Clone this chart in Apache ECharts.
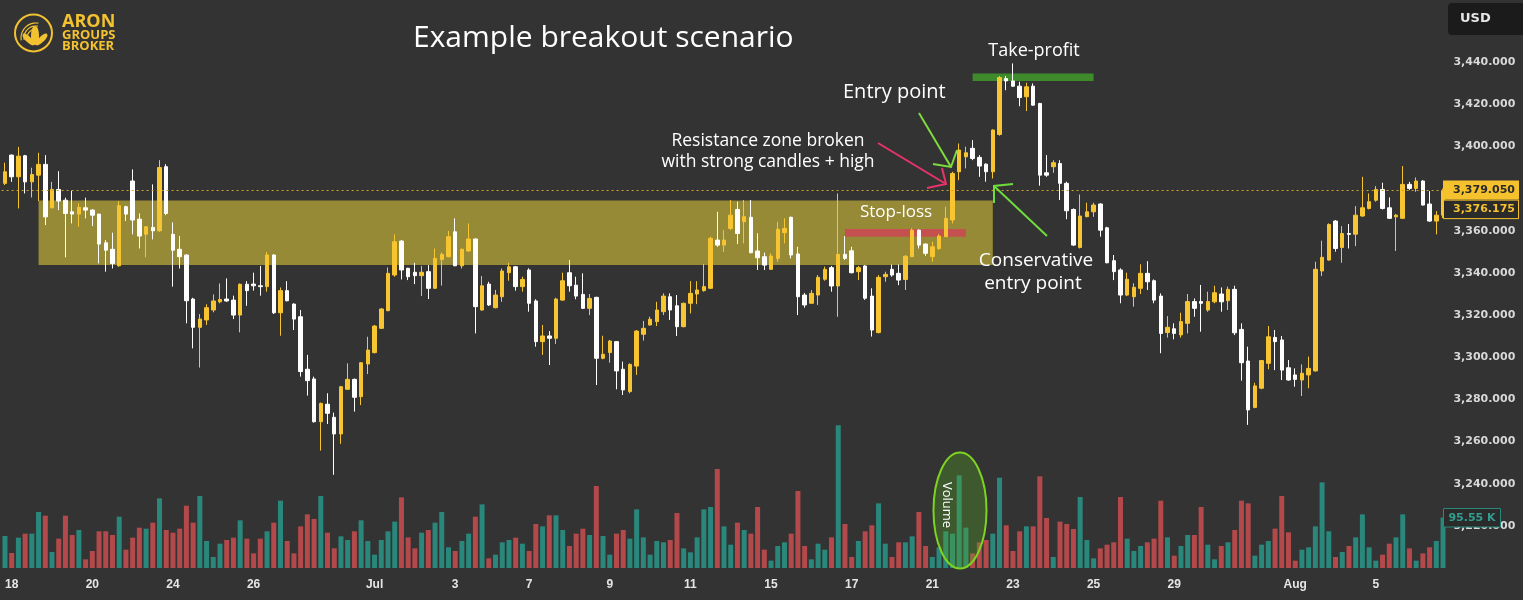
<!DOCTYPE html>
<html>
<head>
<meta charset="utf-8">
<title>Example breakout scenario</title>
<script src="https://cdn.jsdelivr.net/npm/echarts@6/dist/echarts.min.js"></script>
<style>
  html, body { margin: 0; padding: 0; background: #333333; }
  #chart { width: 1523px; height: 600px; }
</style>
</head>
<body>
<div id="chart"></div>
<script>
// 4H candles: [open, close, low, high]
var ohlc = [
  [3382.5, 3388.0, 3381.7, 3392.3], [3395.9, 3385.6, 3383.2, 3396.2], [3385.6, 3395.4, 3370.6, 3399.8], [3395.6, 3383.2, 3377.7, 3396.0],
  [3383.2, 3386.7, 3375.8, 3389.9], [3386.4, 3391.5, 3374.1, 3397.0], [3391.5, 3366.6, 3362.7, 3395.9], [3370.9, 3379.6, 3370.6, 3383.2],
  [3379.6, 3374.1, 3369.8, 3388.3], [3374.5, 3368.2, 3347.4, 3375.7], [3369.0, 3367.9, 3363.5, 3379.0], [3367.9, 3371.1, 3361.9, 3373.0],
  [3370.9, 3369.8, 3365.9, 3375.7], [3369.8, 3367.4, 3362.2, 3370.3], [3367.9, 3353.7, 3344.5, 3368.0], [3354.3, 3350.8, 3340.6, 3355.6],
  [3351.2, 3344.5, 3342.1, 3359.1], [3343.4, 3371.9, 3342.9, 3374.1], [3371.4, 3367.9, 3364.6, 3371.9], [3383.6, 3365.1, 3358.3, 3389.1],
  [3365.5, 3357.5, 3351.6, 3368.2], [3358.3, 3361.9, 3347.4, 3362.2], [3361.6, 3360.0, 3355.9, 3382.0], [3360.0, 3390.0, 3359.5, 3393.5],
  [3390.4, 3368.2, 3367.4, 3391.6], [3358.3, 3350.8, 3333.5, 3364.0], [3351.2, 3347.7, 3342.1, 3357.5], [3348.5, 3326.8, 3316.1, 3348.8],
  [3327.6, 3314.2, 3304.2, 3328.2], [3314.2, 3318.1, 3295.1, 3320.5], [3317.7, 3323.5, 3315.3, 3325.1], [3322.4, 3326.7, 3321.3, 3329.8],
  [3326.3, 3327.4, 3325.6, 3335.0], [3327.6, 3326.7, 3326.3, 3337.4], [3327.1, 3320.0, 3318.1, 3329.2], [3320.0, 3334.6, 3311.8, 3335.0],
  [3334.6, 3331.6, 3324.4, 3336.1], [3334.7, 3333.9, 3331.6, 3340.1], [3333.9, 3333.5, 3329.2, 3343.3], [3333.5, 3348.5, 3331.1, 3350.0],
  [3348.5, 3321.1, 3320.5, 3348.8], [3321.1, 3331.6, 3310.2, 3333.1], [3331.6, 3326.8, 3326.5, 3336.1], [3325.2, 3318.1, 3312.9, 3325.6],
  [3319.2, 3293.2, 3290.8, 3322.4], [3294.3, 3288.9, 3281.8, 3301.1], [3289.7, 3269.4, 3269.0, 3290.8], [3269.4, 3278.1, 3255.7, 3278.5],
  [3277.7, 3273.4, 3268.3, 3282.9], [3271.5, 3263.6, 3244.2, 3273.7], [3263.6, 3286.0, 3258.9, 3286.4], [3284.8, 3289.5, 3284.5, 3297.1],
  [3289.5, 3281.0, 3274.2, 3289.9], [3281.3, 3297.4, 3277.3, 3297.6], [3296.8, 3303.4, 3292.0, 3309.7], [3302.2, 3314.8, 3301.8, 3315.3],
  [3313.7, 3322.9, 3313.5, 3323.2], [3322.1, 3339.8, 3321.8, 3342.6], [3339.0, 3354.8, 3338.2, 3358.3], [3355.1, 3341.4, 3336.9, 3355.6],
  [3342.2, 3338.2, 3336.6, 3342.4], [3340.3, 3338.7, 3334.7, 3344.8], [3338.7, 3340.3, 3329.0, 3343.3], [3340.6, 3332.7, 3327.6, 3343.7],
  [3332.7, 3346.9, 3332.4, 3351.6], [3346.4, 3348.8, 3334.0, 3349.7], [3347.7, 3357.2, 3347.4, 3359.9], [3359.5, 3343.4, 3343.2, 3365.9],
  [3343.4, 3351.2, 3342.1, 3351.6], [3350.4, 3356.1, 3350.1, 3363.5], [3356.1, 3324.0, 3311.3, 3356.3], [3322.4, 3333.9, 3322.1, 3338.5],
  [3334.7, 3324.8, 3324.3, 3335.8], [3323.5, 3329.5, 3323.2, 3331.9], [3328.7, 3340.9, 3326.3, 3342.1], [3340.1, 3342.9, 3336.3, 3344.8],
  [3342.9, 3333.5, 3331.6, 3343.3], [3333.5, 3336.9, 3331.1, 3338.2], [3341.4, 3325.6, 3321.6, 3342.2], [3326.7, 3307.4, 3305.0, 3327.5],
  [3307.4, 3310.1, 3301.1, 3315.3], [3310.1, 3309.0, 3296.3, 3312.4], [3309.0, 3327.6, 3306.3, 3328.2], [3327.1, 3336.3, 3326.8, 3340.1],
  [3340.1, 3333.9, 3331.1, 3346.1], [3334.2, 3329.0, 3327.5, 3338.2], [3329.8, 3323.2, 3322.9, 3339.8], [3323.2, 3327.9, 3320.0, 3330.0],
  [3328.4, 3299.5, 3286.8, 3328.7], [3299.5, 3301.4, 3299.0, 3310.2], [3302.2, 3307.7, 3297.4, 3308.2], [3307.4, 3293.5, 3284.8, 3307.6],
  [3294.3, 3284.5, 3282.1, 3297.9], [3283.7, 3296.6, 3282.9, 3297.1], [3295.8, 3312.4, 3291.6, 3312.9], [3310.9, 3313.7, 3307.9, 3317.2],
  [3315.3, 3318.0, 3315.0, 3319.2], [3316.9, 3322.4, 3314.8, 3326.3], [3321.6, 3329.0, 3320.0, 3330.3], [3328.7, 3322.4, 3317.7, 3330.3],
  [3324.4, 3314.5, 3310.1, 3329.5], [3314.5, 3325.6, 3314.2, 3325.9], [3325.6, 3330.3, 3320.8, 3336.1], [3330.0, 3331.9, 3325.2, 3336.1],
  [3331.6, 3333.5, 3331.1, 3344.2], [3332.7, 3356.4, 3332.4, 3357.2], [3355.6, 3353.2, 3352.4, 3369.0], [3353.2, 3355.6, 3350.0, 3360.3],
  [3361.1, 3367.4, 3360.3, 3374.6], [3370.1, 3358.7, 3353.7, 3373.8], [3364.3, 3366.7, 3354.0, 3374.6], [3366.4, 3349.6, 3349.3, 3374.6],
  [3350.4, 3347.2, 3341.4, 3358.8], [3347.7, 3343.7, 3341.4, 3349.6], [3341.7, 3348.0, 3341.4, 3349.3], [3346.9, 3360.7, 3345.3, 3364.3],
  [3359.1, 3361.1, 3354.0, 3365.9], [3366.4, 3348.5, 3346.9, 3366.7], [3349.0, 3328.7, 3320.0, 3352.4], [3329.5, 3324.8, 3323.5, 3330.5],
  [3325.6, 3330.3, 3325.6, 3331.9], [3329.5, 3337.9, 3324.8, 3339.0], [3337.0, 3341.7, 3336.3, 3343.0], [3342.5, 3333.8, 3331.1, 3343.3],
  [3333.8, 3348.8, 3319.2, 3377.7], [3348.8, 3346.9, 3346.1, 3357.5], [3350.5, 3340.1, 3339.8, 3352.4], [3340.6, 3342.5, 3336.6, 3343.3],
  [3343.3, 3328.0, 3327.2, 3343.7], [3329.0, 3312.9, 3309.8, 3332.7], [3311.7, 3337.9, 3311.3, 3339.0], [3338.2, 3339.3, 3335.8, 3340.6],
  [3341.7, 3339.0, 3338.2, 3344.0], [3339.8, 3336.6, 3334.2, 3344.0], [3336.9, 3347.9, 3331.9, 3348.5], [3347.7, 3360.3, 3347.7, 3361.1],
  [3360.3, 3353.2, 3351.6, 3360.7], [3353.7, 3349.3, 3348.0, 3354.0], [3347.7, 3352.4, 3345.3, 3354.8], [3351.6, 3357.5, 3350.9, 3358.4],
  [3357.2, 3365.9, 3357.2, 3371.4], [3365.1, 3387.2, 3363.5, 3388.0], [3388.0, 3398.3, 3384.0, 3401.4], [3395.1, 3397.0, 3389.6, 3399.9],
  [3399.1, 3394.3, 3393.5, 3403.0], [3394.8, 3390.7, 3385.6, 3395.9], [3391.6, 3388.0, 3383.3, 3392.0], [3388.0, 3407.8, 3384.8, 3408.1],
  [3405.7, 3432.7, 3405.1, 3433.4], [3432.2, 3431.1, 3426.7, 3433.4], [3431.1, 3428.6, 3428.3, 3439.4], [3428.6, 3423.2, 3419.1, 3430.7],
  [3423.6, 3428.3, 3416.8, 3430.2], [3428.6, 3419.6, 3419.4, 3429.9], [3420.4, 3386.4, 3381.4, 3420.7], [3387.5, 3386.4, 3385.6, 3395.9],
  [3390.4, 3392.3, 3387.5, 3393.5], [3391.9, 3382.5, 3374.6, 3393.5], [3382.5, 3369.5, 3365.5, 3383.3], [3370.1, 3353.2, 3352.8, 3370.6],
  [3352.1, 3367.0, 3351.6, 3377.2], [3366.7, 3369.0, 3366.4, 3373.3], [3369.0, 3372.2, 3366.6, 3373.3], [3372.7, 3360.3, 3357.2, 3373.0],
  [3361.4, 3344.8, 3344.6, 3361.9], [3345.8, 3340.6, 3336.6, 3348.5], [3341.4, 3329.5, 3325.6, 3342.2], [3329.5, 3337.0, 3329.0, 3340.1],
  [3328.7, 3333.2, 3324.0, 3335.1], [3332.7, 3339.8, 3330.0, 3344.1], [3339.8, 3335.8, 3331.9, 3345.6], [3336.3, 3327.1, 3325.6, 3336.9],
  [3329.0, 3311.3, 3301.9, 3330.3], [3311.7, 3314.2, 3309.3, 3319.5], [3313.5, 3311.3, 3308.5, 3316.1], [3310.6, 3316.9, 3309.3, 3321.1],
  [3316.1, 3326.4, 3311.3, 3330.0], [3326.4, 3323.2, 3319.2, 3327.9], [3326.4, 3325.6, 3312.1, 3334.3], [3322.4, 3326.4, 3321.6, 3331.1],
  [3326.3, 3330.6, 3325.6, 3333.9], [3330.0, 3326.3, 3321.6, 3333.1], [3326.8, 3332.2, 3322.4, 3333.5], [3332.2, 3311.6, 3310.5, 3333.9],
  [3313.2, 3297.4, 3288.9, 3316.1], [3298.2, 3275.0, 3267.9, 3305.0], [3276.2, 3286.4, 3275.8, 3287.9], [3285.3, 3298.4, 3284.8, 3298.7],
  [3297.1, 3309.7, 3294.3, 3314.8], [3309.4, 3307.4, 3293.9, 3312.9], [3308.2, 3293.9, 3289.2, 3310.1], [3295.0, 3289.2, 3288.9, 3298.7],
  [3291.6, 3289.5, 3286.0, 3294.7], [3289.2, 3292.4, 3281.6, 3296.6], [3291.6, 3294.7, 3285.3, 3300.3], [3293.5, 3341.7, 3293.2, 3345.3],
  [3340.9, 3347.4, 3338.5, 3355.3], [3346.1, 3363.0, 3345.8, 3363.5], [3364.6, 3351.6, 3350.1, 3365.1], [3352.1, 3358.7, 3344.8, 3362.2],
  [3358.7, 3358.3, 3351.6, 3363.2], [3358.4, 3367.4, 3352.7, 3371.7], [3367.0, 3370.9, 3366.6, 3385.6], [3370.6, 3373.8, 3370.1, 3377.7],
  [3374.5, 3379.6, 3373.8, 3381.2], [3379.6, 3370.6, 3370.1, 3382.8], [3370.9, 3365.9, 3365.6, 3375.8], [3366.6, 3367.4, 3350.4, 3368.0],
  [3365.9, 3382.0, 3365.6, 3390.7], [3382.0, 3380.1, 3379.3, 3383.2], [3380.1, 3383.6, 3378.5, 3385.3], [3383.6, 3372.2, 3372.0, 3384.0],
  [3372.7, 3364.6, 3364.3, 3378.8], [3364.6, 3367.4, 3358.3, 3369.3], [3367.4, 3379.05, 3366.0, 3380.0]
];

// volume per candle, thousands
var volume = [
  60.5, 28.4, 57.4, 65.0, 65.0, 105.9, 99.0, 30.3, 55.5, 99.0, 62.4, 71.9, 16.4, 32.2, 69.4, 69.4, 62.4, 97.1, 34.7, 57.4,
  76.3, 74.4, 85.8, 131.8, 71.9, 66.8, 74.4, 117.9, 85.8, 136.2, 51.1, 20.8, 46.0, 53.0, 57.4, 90.2, 55.5, 27.7, 55.5, 69.4,
  85.8, 127.4, 51.1, 27.7, 78.8, 101.5, 92.7, 136.2, 66.8, 37.2, 59.9, 53.0, 69.4, 90.2, 51.1, 25.2, 53.0, 69.4, 87.7, 133.7,
  58.0, 37.2, 66.8, 71.9, 85.8, 105.9, 39.1, 32.2, 51.1, 65.0, 97.1, 120.4, 18.3, 25.2, 48.6, 53.0, 57.4, 46.0, 32.2, 83.2,
  78.8, 99.6, 99.6, 71.9, 41.6, 65.0, 74.4, 62.4, 155.1, 60.5, 25.2, 65.0, 71.9, 55.5, 111.0, 58.0, 25.2, 51.1, 48.6, 53.0,
  104.0, 37.2, 29.6, 58.0, 111.0, 115.4, 187.3, 78.8, 44.1, 85.8, 71.9, 65.0, 115.4, 34.7, 13.9, 41.6, 48.6, 65.0, 145.7, 41.6,
  16.4, 46.0, 34.7, 58.0, 269.9, 83.2, 20.8, 51.1, 69.4, 80.7, 122.3, 46.0, 20.8, 48.6, 48.6, 59.9, 105.9, 41.6, 20.8, 39.1,
  69.4, 65.0, 175.3, 76.3, 27.7, 48.6, 53.0, 65.0, 170.9, 80.7, 32.2, 69.4, 78.8, 78.8, 173.4, 94.6, 20.8, 87.7, 83.2, 73.8,
  134.3, 53.0, 18.3, 37.2, 44.1, 48.6, 134.3, 55.5, 32.2, 41.6, 48.6, 55.5, 127.4, 58.0, 23.3, 41.6, 62.4, 62.4, 115.4, 44.1,
  16.4, 41.6, 48.6, 71.9, 127.4, 122.3, 23.3, 44.1, 51.1, 74.4, 136.2, 67.5, 13.9, 34.7, 39.1, 78.8, 162.1, 69.4, 20.8, 30.3,
  41.6, 58.0, 101.5, 39.1, 13.9, 25.2, 46.0, 58.0, 101.5, 37.2, 13.9, 27.7, 39.1, 51.1, 95.55
];

// x-axis ticks: candle index where each labelled day starts
var tickIdx = [1, 13, 25, 37, 55, 67, 78, 90, 102, 114, 126, 138, 150, 162, 174, 192, 204];
var tickLabels = ['18', '20', '24', '26', 'Jul', '3', '7', '9', '11', '15', '17', '21', '23', '25', '29', 'Aug', '5'];

var lastPrice = 3379.05;
var prevPrice = 3376.175;
var lastVolume = 95.55;

// annotation zones: [fromIndex, toIndex, lowPrice, highPrice]
var resistanceZone = [5, 147, 3343.75, 3374.4];
var stopLossBand = [125, 143, 3357.2, 3360.8];
var takeProfitBand = [144, 162, 3431.1, 3434.6];

var UP = '#f7c531';
var DOWN = '#ffffff';
var VUP = '#2a877b';
var VDOWN = '#b3494a';

var cats = ohlc.map(function (d, i) { return String(i); });
var tickMap = {};
tickIdx.forEach(function (idx, k) { tickMap[idx] = tickLabels[k]; });

function fmtPrice (v) {
  return Number(v).toLocaleString('en-US', { minimumFractionDigits: 3, maximumFractionDigits: 3 });
}

function band (b, color) {
  return [
    { xAxis: b[0], yAxis: b[3], itemStyle: { color: color, opacity: 1 } },
    { xAxis: b[1], yAxis: b[2] }
  ];
}

var chart = echarts.init(document.getElementById('chart'));

var option = {
  backgroundColor: '#333333',
  animation: false,
  grid: [
    { left: 1.6, right: 76.6, top: 20, height: 548 },
    { left: 1.6, right: 76.6, top: 420, height: 148 }
  ],
  xAxis: [
    { type: 'category', gridIndex: 0, data: cats, boundaryGap: true, show: false },
    {
      type: 'category', gridIndex: 1, data: cats, boundaryGap: true,
      axisLine: { show: false }, axisTick: { show: false },
      axisLabel: {
        interval: function (i) { return tickMap[i] !== undefined },
        formatter: function (v, i) { return tickMap[i] || '' },
        color: '#e6e6e6', fontWeight: 'bold', fontSize: 12, fontFamily: 'Liberation Sans', margin: 11
      }
    }
  ],
  yAxis: [
    {
      type: 'value', gridIndex: 0, position: 'right', min: 3200, max: 3460, interval: 20,
      splitLine: { show: false }, axisLine: { show: false }, axisTick: { show: false },
      axisLabel: {
        showMinLabel: false, showMaxLabel: false, margin: 7,
        formatter: fmtPrice, color: '#d8d8d8', fontFamily: 'DejaVu Sans', fontWeight: 'bold', fontSize: 11
      }
    },
    { type: 'value', gridIndex: 1, min: 0, max: 280, show: false }
  ],
  series: [
    {
      name: 'XAUUSD',
      type: 'candlestick',
      xAxisIndex: 0,
      yAxisIndex: 0,
      data: ohlc,
      barWidth: 4,
      z: 3,
      itemStyle: { color: UP, color0: DOWN, borderColor: UP, borderColor0: DOWN, borderWidth: 1 },
      markArea: {
        silent: true,
        data: [
          band(resistanceZone, '#978a36'),
          band(stopLossBand, '#c4514f'),
          band(takeProfitBand, '#3f8b2c')
        ]
      },
      markLine: {
        silent: true,
        symbol: ['none', 'none'],
        label: { show: false },
        lineStyle: { color: '#d2a32a', type: [2, 3], width: 1 },
        data: [{ yAxis: lastPrice }]
      }
    },
    {
      name: 'Volume',
      type: 'bar',
      xAxisIndex: 1,
      yAxisIndex: 1,
      barWidth: 5,
      z: 2,
      data: volume.map(function (v, i) {
        var up = ohlc[i][1] >= ohlc[i][0];
        return { value: v, itemStyle: { color: up ? VUP : VDOWN } };
      })
    }
  ]
};
chart.setOption(option);

// annotations (fixed screen layout)
function txt (s, x, y, size, align) {
  return {
    type: 'text', z: 100,
    style: { text: s, x: x, y: y, fill: '#ffffff', font: size + 'px "Open Sans"', textAlign: align || 'left', textVerticalAlign: 'middle' }
  };
}
function arrow (from, tip, h1, h2, color) {
  return [
    { type: 'polyline', z: 100, shape: { points: [from, tip] }, style: { stroke: color, lineWidth: 2, fill: null } },
    { type: 'polyline', z: 100, shape: { points: [h1, tip, h2] }, style: { stroke: color, lineWidth: 2, fill: null } }
  ];
}
function leaf (pts) {
  return { type: 'polygon', z: 100, shape: { points: pts, smooth: 0.6 }, style: { fill: gold } };
}
function swirl (r) {
  return { type: 'arc', z: 100, shape: { cx: 36, cy: 38, r: r, startAngle: Math.PI * 0.95, endAngle: Math.PI * 1.55, clockwise: true },
    style: { stroke: gold, lineWidth: 1.2, fill: null } };
}

var yLast = chart.convertToPixel({ yAxisIndex: 0 }, lastPrice);
var gold = '#f2c230';

var graphics = [
  // logo
  { type: 'circle', z: 100, shape: { cx: 33.5, cy: 33, r: 18.5 }, style: { stroke: gold, lineWidth: 2, fill: null } },
  swirl(9), swirl(12), swirl(15),
  leaf([[35, 45], [31, 36], [35, 26], [39, 36]]),
  leaf([[34, 45], [26, 41], [23, 34], [30, 37]]),
  leaf([[36, 45], [44, 41], [47, 34], [40, 37]]),
  { type: 'text', z: 100, style: { text: 'ARON', x: 62, y: 22, fill: gold, font: 'bold 18px "Open Sans"', textVerticalAlign: 'middle' } },
  { type: 'text', z: 100, style: { text: 'GROUPS', x: 62, y: 35.5, fill: gold, font: 'bold 13px "Open Sans"', textVerticalAlign: 'middle' } },
  { type: 'text', z: 100, style: { text: 'BROKER', x: 62, y: 46.5, fill: gold, font: 'bold 13px "Open Sans"', textVerticalAlign: 'middle' } },

  txt('Example breakout scenario', 413, 38, 30),
  txt('Take-profit', 1034, 51, 18, 'center'),
  txt('Entry point', 843, 92, 20),
  txt('Resistance zone broken', 768, 141, 17.5, 'center'),
  txt('with strong candles + high', 768, 162, 17.5, 'center'),
  txt('Stop-loss', 896, 212, 17, 'center'),
  txt('Conservative', 1036, 261, 19, 'center'),
  txt('entry point', 1033, 284, 19, 'center'),

  // volume ellipse
  { type: 'ellipse', z: 100, shape: { cx: 960, cy: 510.5, rx: 26.5, ry: 58 }, style: { fill: 'rgba(90,170,40,0.32)', stroke: '#7ed321', lineWidth: 2 } },
  { type: 'text', z: 101, x: 946.5, y: 505, rotation: -Math.PI / 2,
    style: { text: 'Volume', x: 0, y: 0, fill: '#ffffff', font: '13px "Open Sans"', textAlign: 'center', textVerticalAlign: 'middle' } },

  // USD box
  { type: 'rect', z: 100, shape: { x: 1448, y: 3, width: 80, height: 32, r: 4 }, style: { fill: '#1b1b1b' } },
  { type: 'text', z: 101, style: { text: 'USD', x: 1460, y: 19, fill: '#e6e6e6', font: 'bold 13px "DejaVu Sans"', textVerticalAlign: 'middle' } },

  // price labels
  { type: 'rect', z: 100, shape: { x: 1443, y: yLast - 10, width: 76, height: 19 }, style: { fill: '#f5c22e' } },
  { type: 'text', z: 101, style: { text: fmtPrice(lastPrice), x: 1484, y: yLast - 0.5, fill: '#2a2a2a', font: 'bold 11px "DejaVu Sans"', textAlign: 'center', textVerticalAlign: 'middle' } },
  { type: 'rect', z: 100, shape: { x: 1443.5, y: yLast + 9.5, width: 75, height: 18.5 }, style: { fill: '#2b2b2b', stroke: '#f5c22e', lineWidth: 1 } },
  { type: 'text', z: 101, style: { text: fmtPrice(prevPrice), x: 1484, y: yLast + 19, fill: '#f5c22e', font: 'bold 11px "DejaVu Sans"', textAlign: 'center', textVerticalAlign: 'middle' } },

  // volume label
  { type: 'rect', z: 100, shape: { x: 1443.5, y: 508.5, width: 57, height: 18.5 }, style: { fill: '#2b2b2b', stroke: VUP, lineWidth: 1 } },
  { type: 'text', z: 101, style: { text: lastVolume.toFixed(2) + ' K', x: 1472, y: 518, fill: '#2fa090', font: 'bold 11px "DejaVu Sans"', textAlign: 'center', textVerticalAlign: 'middle' } }
];

graphics = graphics
  .concat(arrow([878, 143], [946, 184], [927, 188], [942, 168], '#e8336b'))
  .concat(arrow([919, 113], [951, 167], [933, 164], [957, 150], '#7ddc3a'))
  .concat(arrow([1047, 236], [994, 186], [1013, 184], [994, 203], '#6fdc3c'));

chart.setOption({ graphic: graphics });
</script>
</body>
</html>
